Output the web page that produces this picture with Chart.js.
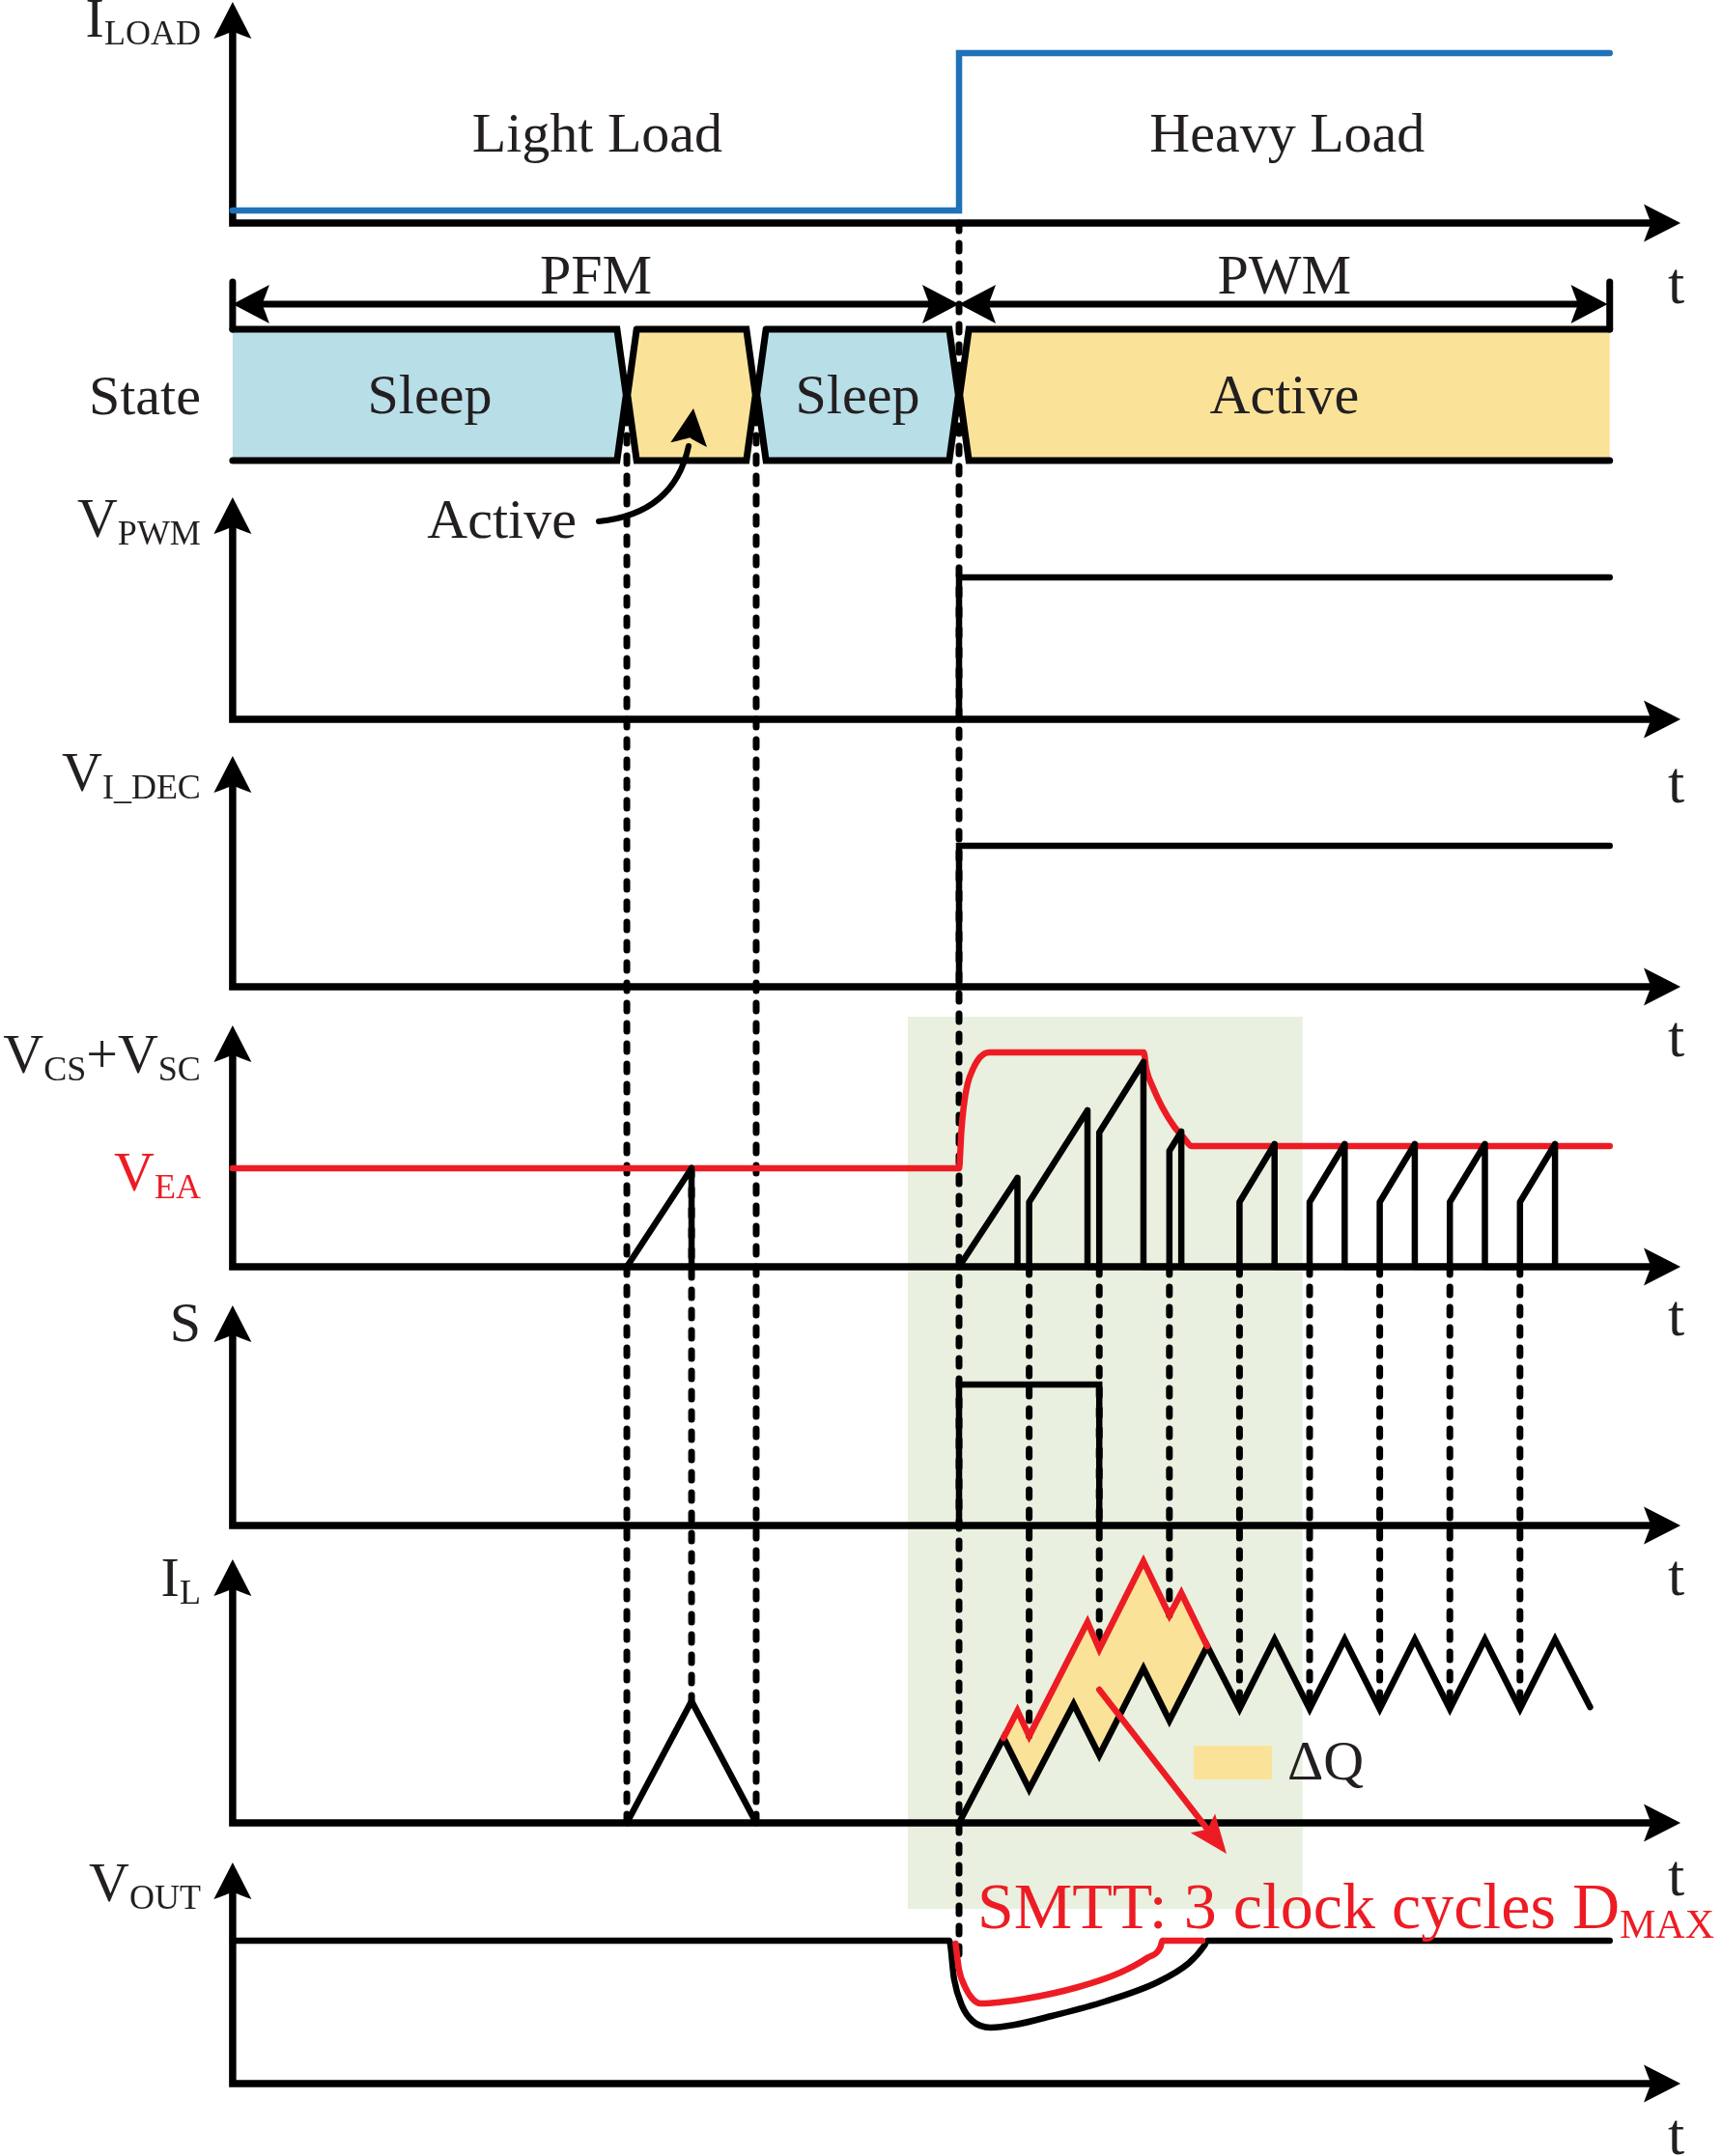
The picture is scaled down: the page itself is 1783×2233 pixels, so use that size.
<!DOCTYPE html>
<html lang="en">
<head>
<meta charset="utf-8">
<title>PFM / PWM load transient timing</title>
<script src="https://cdn.jsdelivr.net/npm/chart.js@4.4.1/dist/chart.umd.min.js"></script>
<style>
  html, body { margin: 0; padding: 0; background: #ffffff; }
  #box { position: relative; width: 1783px; height: 2233px; }
</style>
</head>
<body>
<div id="box"><canvas id="timing"></canvas></div>
<script>
// time is in clock periods, t = 0 at the load step
const T_AXIS = -10.36;  // vertical axes
const T_TIP = 10.29;    // arrow tip of the time axes
const T_END = 9.28;     // traces stop here

// panel baselines (figure units, measured up from the bottom) and axis heights
const BASE   = { iload: 2002, vpwm: 1488, videc: 1211, vcs: 921, s: 653, il: 345, vout: 75 };
const AXIS_H = { iload: 229, vpwm: 230, videc: 239, vcs: 250, s: 228, il: 273, vout: 229 };
const T_DY   = { iload: -83, vpwm: -86, videc: -72, vcs: -71, s: -72, il: -75, vout: -73 };

// state bar rows
const STATE_TOP = 1892, STATE_MID = 1824, STATE_BOT = 1756;
const MODE_Y = 1918, TICK_TOP = 1941;

// I_LOAD
const iloadT = [T_AXIS, 0, 0, T_END];
const iloadV = [13, 13, 176, 176];

// operating state
const stateEdges = [-4.738, -2.893, 0];
const stateNames = ["Sleep", "Active", "Sleep", "Active"];
const stateColors = ["#b8dee8", "#fae399", "#b8dee8", "#fae399"];

// V_PWM, V_I_DEC, S
const vpwmT = [0, 0, T_END];
const vpwmV = [0, 147, 147];
const videcT = [0, 0, T_END];
const videcV = [0, 146, 146];
const sT = [0, 0, 2, 2];
const sV = [0, 146, 146, 0];

// V_EA
const veaT = [T_AXIS, 0, 0.02, 0.032, 0.065, 0.12, 0.2, 0.3, 0.43, 2.635, 2.67, 2.77, 2.9, 3.07, 3.2, 3.32, T_END];
const veaV = [102, 102, 122, 139, 165, 189, 205, 217, 222, 222, 205, 185, 165, 145, 134, 125, 125];

// V_CS + V_SC
const pfmRampT = [-4.738, -3.815, -3.815];
const pfmRampV = [0, 102, 0];
const rampT = [0, 0.833, 0.833, 1, 1, 1.832, 1.832, 2, 2, 2.63, 2.63, 3, 3, 3.17, 3.17,
  4, 4, 4.5, 4.5, 5, 5, 5.5, 5.5, 6, 6, 6.5, 6.5, 7, 7, 7.5, 7.5, 8, 8, 8.5, 8.5];
const rampV = [0, 92, 0, 0, 67, 162, 0, 0, 139, 212, 0, 0, 120, 140, 0,
  0, 67, 127, 0, 0, 67, 127, 0, 0, 67, 127, 0, 0, 67, 127, 0, 0, 67, 127, 0];

// I_L
const ilPfmT = [-4.738, -3.815, -2.893];
const ilPfmV = [0, 126, 0];
const ilT = [0, 0.635, 1, 1.634, 2, 2.63, 3, 3.54, 4, 4.5, 5, 5.5, 6, 6.5, 7, 7.5, 8, 8.5, 9.0];
const ilV = [0, 88, 35, 123, 70, 160, 106, 183, 118, 190, 118, 190, 118, 190, 118, 190, 118, 190, 120];
const ilSmttT = [0.635, 0.833, 1, 1.832, 2, 2.63, 3, 3.17, 3.54];
const ilSmttV = [88, 116, 90, 208, 180, 271, 215, 238, 183];

// V_OUT
const voutT = [T_AXIS, -0.14, -0.07, 0.04, 0.19, 0.45, 0.8, 1.32, 2.08, 2.83, 3.28, 3.5, 3.54, T_END];
const voutV = [148, 148, 108, 81, 65, 58, 61, 70, 85, 105, 125, 143, 148, 148];
const voutSmttT = [-0.05, 0, 0.08, 0.19, 0.31, 0.95, 1.7, 2.3, 2.68, 2.87, 2.9, 3.47];
const voutSmttV = [145, 118, 101, 88, 83, 88, 100, 115, 130, 141, 148, 148];

// clock edges after the step and where their guides land on I_L
const clockT = [1, 2, 3, 4, 5, 6, 7, 8];
const clockIL = [90, 180, 215, 118, 118, 118, 118, 118];

// highlighted transient window
const shadeT = [-0.73, 4.9];
const shadeY = [256, 1180];

const BLACK = "#000000", RED = "#ed1c24", BLUE = "#1f72b8", TEXT = "#231f20";
const YELLOW = "#fae399", GREEN = "#e9f0df";
const SERIF = '"Liberation Serif", "Times New Roman", serif';

const sets = [];
function line(ts, vs, base, color, width, more) {
  sets.push(Object.assign({
    data: ts.map((t, i) => ({ x: t, y: base + vs[i] })),
    showLine: true, fill: false, borderColor: color, borderWidth: width,
    pointRadius: 0, borderCapStyle: "round", borderJoinStyle: "round", tension: 0
  }, more || {}));
}
function area(ts, vs, base, color) {
  sets.push({
    data: ts.map((t, i) => ({ x: t, y: base + vs[i] })),
    showLine: true, fill: "shape", backgroundColor: color,
    borderColor: "rgba(0,0,0,0)", borderWidth: 0, pointRadius: 0, tension: 0
  });
}

// background window
area([shadeT[0], shadeT[1], shadeT[1], shadeT[0], shadeT[0]],
     [shadeY[1], shadeY[1], shadeY[0], shadeY[0], shadeY[1]], 0, GREEN);

// state cells
const SL = 0.14;
const bounds = [T_AXIS].concat(stateEdges, [T_END]);
const cells = [];
for (let i = 0; i < stateNames.length; i++) {
  const l = bounds[i], r = bounds[i + 1];
  const first = i === 0, last = i === stateNames.length - 1;
  const lt = first ? l : l + SL, lm = first ? l : l + 0.01;
  const rt = last ? r : r - SL, rm = last ? r : r - 0.01;
  const fillT = [lt, rt, rm, rt, lt, lm, lt];
  const fillY = [STATE_TOP, STATE_TOP, STATE_MID, STATE_BOT, STATE_BOT, STATE_MID, STATE_TOP];
  area(fillT, fillY, 0, stateColors[i]);
  let outT, outY;
  if (first) { outT = [l, rt, rm, rt, l]; outY = [STATE_TOP, STATE_TOP, STATE_MID, STATE_BOT, STATE_BOT]; }
  else if (last) { outT = [r, lt, lm, lt, r]; outY = [STATE_TOP, STATE_TOP, STATE_MID, STATE_BOT, STATE_BOT]; }
  else { outT = fillT; outY = fillY; }
  cells.push([outT, outY]);
}

// delta Q region between the two inductor currents
const k0 = ilT.indexOf(0.635), k1 = ilT.indexOf(3.54);
area(ilSmttT.concat(ilT.slice(k0, k1 + 1).reverse()),
     ilSmttV.concat(ilV.slice(k0, k1 + 1).reverse()), BASE.il, YELLOW);

// axes
Object.keys(BASE).forEach(k => {
  line([T_AXIS, T_AXIS, T_TIP - 0.3], [AXIS_H[k] - 24, 0, 0], BASE[k], BLACK, 7.5,
       { borderJoinStyle: "miter", borderCapStyle: "butt" });
});

// state outlines, PFM / PWM spans
cells.forEach(c => line(c[0], c[1], 0, BLACK, 7, { borderJoinStyle: "miter" }));
line([T_AXIS, T_AXIS], [TICK_TOP, STATE_TOP], 0, BLACK, 7);
line([T_END, T_END], [TICK_TOP, STATE_TOP], 0, BLACK, 7);
line([T_AXIS + 0.3, -0.3], [MODE_Y, MODE_Y], 0, BLACK, 7);
line([0.3, T_END - 0.3], [MODE_Y, MODE_Y], 0, BLACK, 7);

// dashed guides
const dash = { borderDash: [8, 13], borderCapStyle: "round" };
line([stateEdges[0], stateEdges[0]], [STATE_MID, BASE.il], 0, BLACK, 7, dash);
line([stateEdges[1], stateEdges[1]], [STATE_MID, BASE.il], 0, BLACK, 7, dash);
line([0, 0], [BASE.iload, 198], 0, BLACK, 7, dash);
line([pfmRampT[1], ilPfmT[1]], [BASE.vcs + pfmRampV[1], BASE.il + ilPfmV[1]], 0, BLACK, 7, dash);
clockT.forEach((t, i) => line([t, t], [BASE.vcs, BASE.il + clockIL[i]], 0, BLACK, 7, dash));

// traces
const smooth = { cubicInterpolationMode: "monotone" };
line(iloadT, iloadV, BASE.iload, BLUE, 6.5, { borderJoinStyle: "miter" });
line(vpwmT, vpwmV, BASE.vpwm, BLACK, 6.5, { borderJoinStyle: "miter" });
line(videcT, videcV, BASE.videc, BLACK, 6.5, { borderJoinStyle: "miter" });
line(sT, sV, BASE.s, BLACK, 6.5, { borderJoinStyle: "miter" });
line(veaT, veaV, BASE.vcs, RED, 6.5, smooth);
line(pfmRampT, pfmRampV, BASE.vcs, BLACK, 6.5);
line(rampT, rampV, BASE.vcs, BLACK, 6.5);
line(ilPfmT, ilPfmV, BASE.il, BLACK, 6.5, { borderJoinStyle: "miter" });
line(ilT, ilV, BASE.il, BLACK, 6.5, { borderJoinStyle: "miter" });
line(ilSmttT, ilSmttV, BASE.il, RED, 6.5, { borderJoinStyle: "miter" });
line(voutT, voutV, BASE.vout, BLACK, 6.5, smooth);
line(voutSmttT, voutSmttV, BASE.vout, RED, 6.5, smooth);

sets.forEach((d, i) => { d.order = -i; });

function head(ctx, x, y, ang, len, half, color) {
  ctx.save();
  ctx.translate(x, y);
  ctx.rotate(ang);
  ctx.beginPath();
  ctx.moveTo(0, 0);
  ctx.lineTo(-len, -half);
  ctx.quadraticCurveTo(-len * 0.86, -half * 0.25, -len * 0.8, 0);
  ctx.quadraticCurveTo(-len * 0.86, half * 0.25, -len, half);
  ctx.closePath();
  ctx.fillStyle = color;
  ctx.fill();
  ctx.restore();
}

function label(ctx, parts, x, y, align, color, mainSize, subSize, subDy) {
  const mf = mainSize + "px " + SERIF, sf = subSize + "px " + SERIF;
  let w = 0;
  parts.forEach(p => { ctx.font = p[1] ? sf : mf; w += ctx.measureText(p[0]).width; });
  let cx = align === "right" ? x - w : align === "center" ? x - w / 2 : x;
  ctx.fillStyle = color;
  ctx.textAlign = "left";
  ctx.textBaseline = "alphabetic";
  parts.forEach(p => {
    ctx.font = p[1] ? sf : mf;
    ctx.fillText(p[0], cx, p[1] ? y + subDy : y);
    cx += ctx.measureText(p[0]).width;
  });
}

const axisLabels = [
  { parts: [["I", 0], ["LOAD", 1]], y: 2195, color: TEXT },
  { parts: [["State", 0]], y: 1804, color: TEXT },
  { parts: [["V", 0], ["PWM", 1]], y: 1677, color: TEXT },
  { parts: [["V", 0], ["I_DEC", 1]], y: 1414, color: TEXT },
  { parts: [["V", 0], ["CS", 1], ["+", 0], ["V", 0], ["SC", 1]], y: 1122, color: TEXT },
  { parts: [["V", 0], ["EA", 1]], y: 1000, color: RED },
  { parts: [["S", 0]], y: 844, color: TEXT },
  { parts: [["I", 0], ["L", 1]], y: 580, color: TEXT },
  { parts: [["V", 0], ["OUT", 1]], y: 264, color: TEXT }
];

const decor = {
  id: "decor",
  afterDatasetsDraw(chart) {
    const ctx = chart.ctx;
    const X = t => chart.scales.x.getPixelForValue(t);
    const Y = v => chart.scales.y.getPixelForValue(v);
    ctx.save();

    // axis arrow heads
    Object.keys(BASE).forEach(k => {
      head(ctx, X(T_AXIS), Y(BASE[k] + AXIS_H[k]), -Math.PI / 2, 38, 19.5, BLACK);
      head(ctx, X(T_TIP), Y(BASE[k]), 0, 38, 19.5, BLACK);
    });
    // PFM / PWM span heads
    head(ctx, X(T_AXIS), Y(MODE_Y), Math.PI, 38, 20, BLACK);
    head(ctx, X(0), Y(MODE_Y), 0, 38, 20, BLACK);
    head(ctx, X(0), Y(MODE_Y), Math.PI, 38, 20, BLACK);
    head(ctx, X(T_END - 0.03), Y(MODE_Y), 0, 38, 20, BLACK);

    // pointer to the short active phase
    const ex = X(-3.857), ey = Y(1771), tx = X(-3.788), ty = Y(1810);
    ctx.beginPath();
    ctx.moveTo(X(-5.138), Y(1693));
    ctx.quadraticCurveTo(X(-4.063), Y(1701), ex, ey);
    ctx.lineWidth = 6;
    ctx.lineCap = "round";
    ctx.strokeStyle = BLACK;
    ctx.stroke();
    head(ctx, tx, ty, Math.atan2(ty - ey, tx - ex), 38, 19, BLACK);

    // red pointer from delta Q to the SMTT note
    const ax = X(2.0), ay = Y(483), bx = X(3.815), by = Y(313);
    const ang = Math.atan2(by - ay, bx - ax);
    ctx.beginPath();
    ctx.moveTo(ax, ay);
    ctx.lineTo(bx - Math.cos(ang) * 28, by - Math.sin(ang) * 28);
    ctx.lineWidth = 6.5;
    ctx.strokeStyle = RED;
    ctx.stroke();
    head(ctx, bx, by, ang, 40, 16, RED);

    // delta Q legend swatch
    ctx.fillStyle = YELLOW;
    ctx.fillRect(X(3.347), Y(425), X(4.463) - X(3.347), Y(390) - Y(425));

    // texts
    const lx = X(T_AXIS) - 33;
    axisLabels.forEach(l => label(ctx, l.parts, lx, Y(l.y), "right", l.color, 58, 36, 8));
    Object.keys(BASE).forEach(k => label(ctx, [["t", 0]], X(10.23), Y(BASE[k] + T_DY[k]), "center", TEXT, 62, 36, 0));

    label(ctx, [["Light Load", 0]], X(-5.16), Y(2076), "center", TEXT, 58, 36, 0);
    label(ctx, [["Heavy Load", 0]], X(4.68), Y(2076), "center", TEXT, 58, 36, 0);
    label(ctx, [["PFM", 0]], X((T_AXIS + 0) / 2), Y(1929), "center", TEXT, 58, 36, 0);
    label(ctx, [["PWM", 0]], X((0 + T_END) / 2), Y(1929), "center", TEXT, 58, 36, 0);
    stateNames.forEach((n, i) => {
      if (i === 1) return;
      label(ctx, [[n, 0]], X((bounds[i] + bounds[i + 1]) / 2), Y(1805), "center", TEXT, 58, 36, 0);
    });
    label(ctx, [["Active", 0]], X(-6.52), Y(1676), "center", TEXT, 58, 36, 0);
    label(ctx, [["\u0394Q", 0]], X(4.683), Y(390), "left", TEXT, 58, 36, 0);
    label(ctx, [["SMTT: 3 clock cycles D", 0], ["MAX", 1]], X(0.26), Y(236), "left", RED, 68, 42, 10);

    ctx.restore();
  }
};

new Chart(document.getElementById("timing"), {
  type: "scatter",
  data: { datasets: sets },
  options: {
    responsive: true,
    maintainAspectRatio: false,
    animation: false,
    events: [],
    layout: { padding: 0 },
    plugins: { legend: { display: false }, tooltip: { enabled: false } },
    scales: {
      x: { type: "linear", display: false, min: -13.678, max: 10.8815 },
      y: { type: "linear", display: false, min: 0, max: 2233 }
    }
  },
  plugins: [decor]
});
</script>
</body>
</html>
